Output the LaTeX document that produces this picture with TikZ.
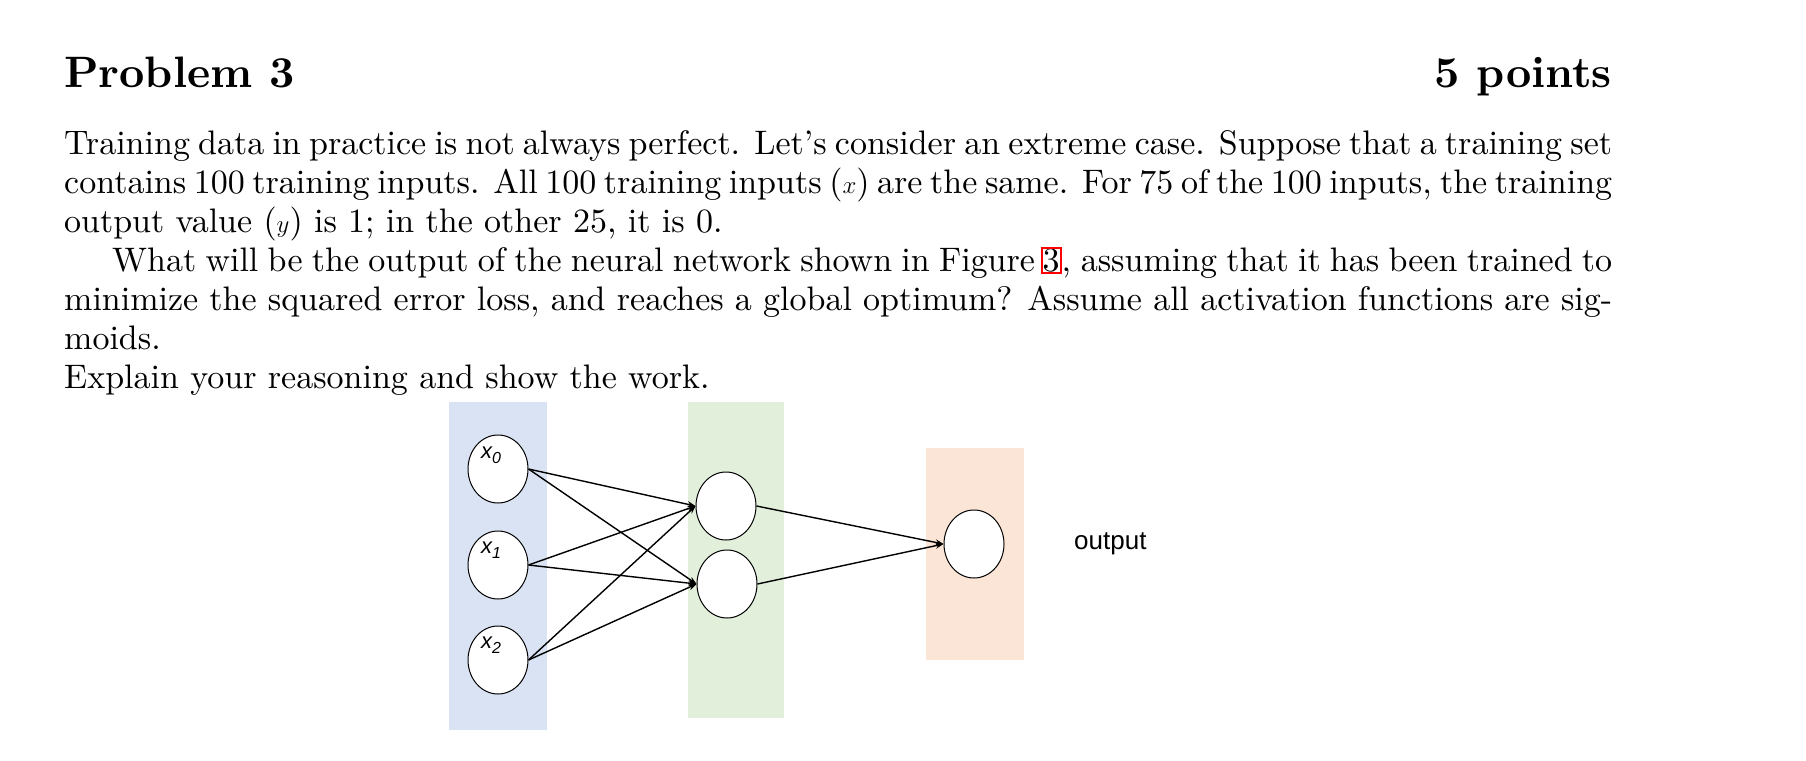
\documentclass[tikz,border=0pt]{standalone}
\usepackage{fontspec}
\setmainfont{lmroman10}[Extension=.otf,UprightFont=*-regular,BoldFont=*-bold,ItalicFont=*-italic]
\newfontfamily\lsans{Liberation Sans}
\usetikzlibrary{arrows.meta,shapes.geometric}
\definecolor{lblue}{HTML}{DAE3F3}
\definecolor{lgreen}{HTML}{E2EFDA}
\definecolor{lorange}{HTML}{FBE5D6}
\begin{document}
\begin{tikzpicture}[x=1pt,y=-1pt,
  neuron/.style={draw,fill=white,ellipse,minimum width=60pt,minimum height=68pt,inner sep=0pt,line width=1pt},
  edge/.style={-{Stealth[length=8pt,width=6pt]},line width=1.4pt},
  lbl/.style={font=\lsans\itshape\fontsize{22}{22}\selectfont,inner sep=0pt},
  body/.style={font=\fontsize{34}{39}\selectfont,inner sep=0pt,anchor=north west,text width=1548pt,align=justify}]
\useasboundingbox (0,0) rectangle (1806,760);
% title
\node[anchor=base west,inner sep=0pt,font=\fontsize{44}{50}\selectfont\bfseries] (t1) at (64,87) {Problem 3};
\node[anchor=base east,inner sep=0pt,font=\fontsize{44}{50}\selectfont\bfseries] (t2) at (1612,87) {5 points};
% body
\node[body] (txt) at (64,130) {\setlength{\parindent}{48pt}\noindent Training data in practice is not always perfect. Let's consider an extreme case. Suppose that a training set\linebreak{} contains 100 training inputs. All 100 training inputs ($x$) are the same. For 75 of the 100 inputs, the training\linebreak{} output value ($y$) is 1; in the other 25, it is 0.\par
What will be the output of the neural network shown in Figure\,{\setlength{\fboxsep}{0pt}\setlength{\fboxrule}{2pt}\fcolorbox{red}{white}{3}}, assuming that it has been trained to\linebreak{} minimize the squared error loss, and reaches a global optimum? Assume all activation functions are sigmoids.\linebreak{} Explain your reasoning and show the work.};
% layers
\fill[lblue] (449,402) rectangle (547,730);
\fill[lgreen] (688,402) rectangle (784,718);
\fill[lorange] (926,448) rectangle (1024,660);
\node[neuron] (i0) at (498,469) {};
\node[neuron] (i1) at (498,565) {};
\node[neuron] (i2) at (498,660) {};
\node[neuron] (h0) at (726,506) {};
\node[neuron] (h1) at (727,584) {};
\node[neuron] (o) at (974,544) {};
\node[lbl] (l0) at (491,455) {x\raisebox{-5pt}{\fontsize{16}{16}\selectfont 0}};
\node[lbl] (l1) at (491,550) {x\raisebox{-5pt}{\fontsize{16}{16}\selectfont 1}};
\node[lbl] (l2) at (491,645) {x\raisebox{-5pt}{\fontsize{16}{16}\selectfont 2}};
\node[anchor=west,inner sep=0pt,font=\lsans\fontsize{26}{26}\selectfont] (out) at (1074,544) {output};
\foreach \a in {i0,i1,i2}{\foreach \b in {h0,h1}{\draw[edge] (\a.east) -- (\b.west);}}
\draw[edge] (h0.east) -- (o.west);
\draw[edge] (h1.east) -- (o.west);
\end{tikzpicture}
\end{document}
